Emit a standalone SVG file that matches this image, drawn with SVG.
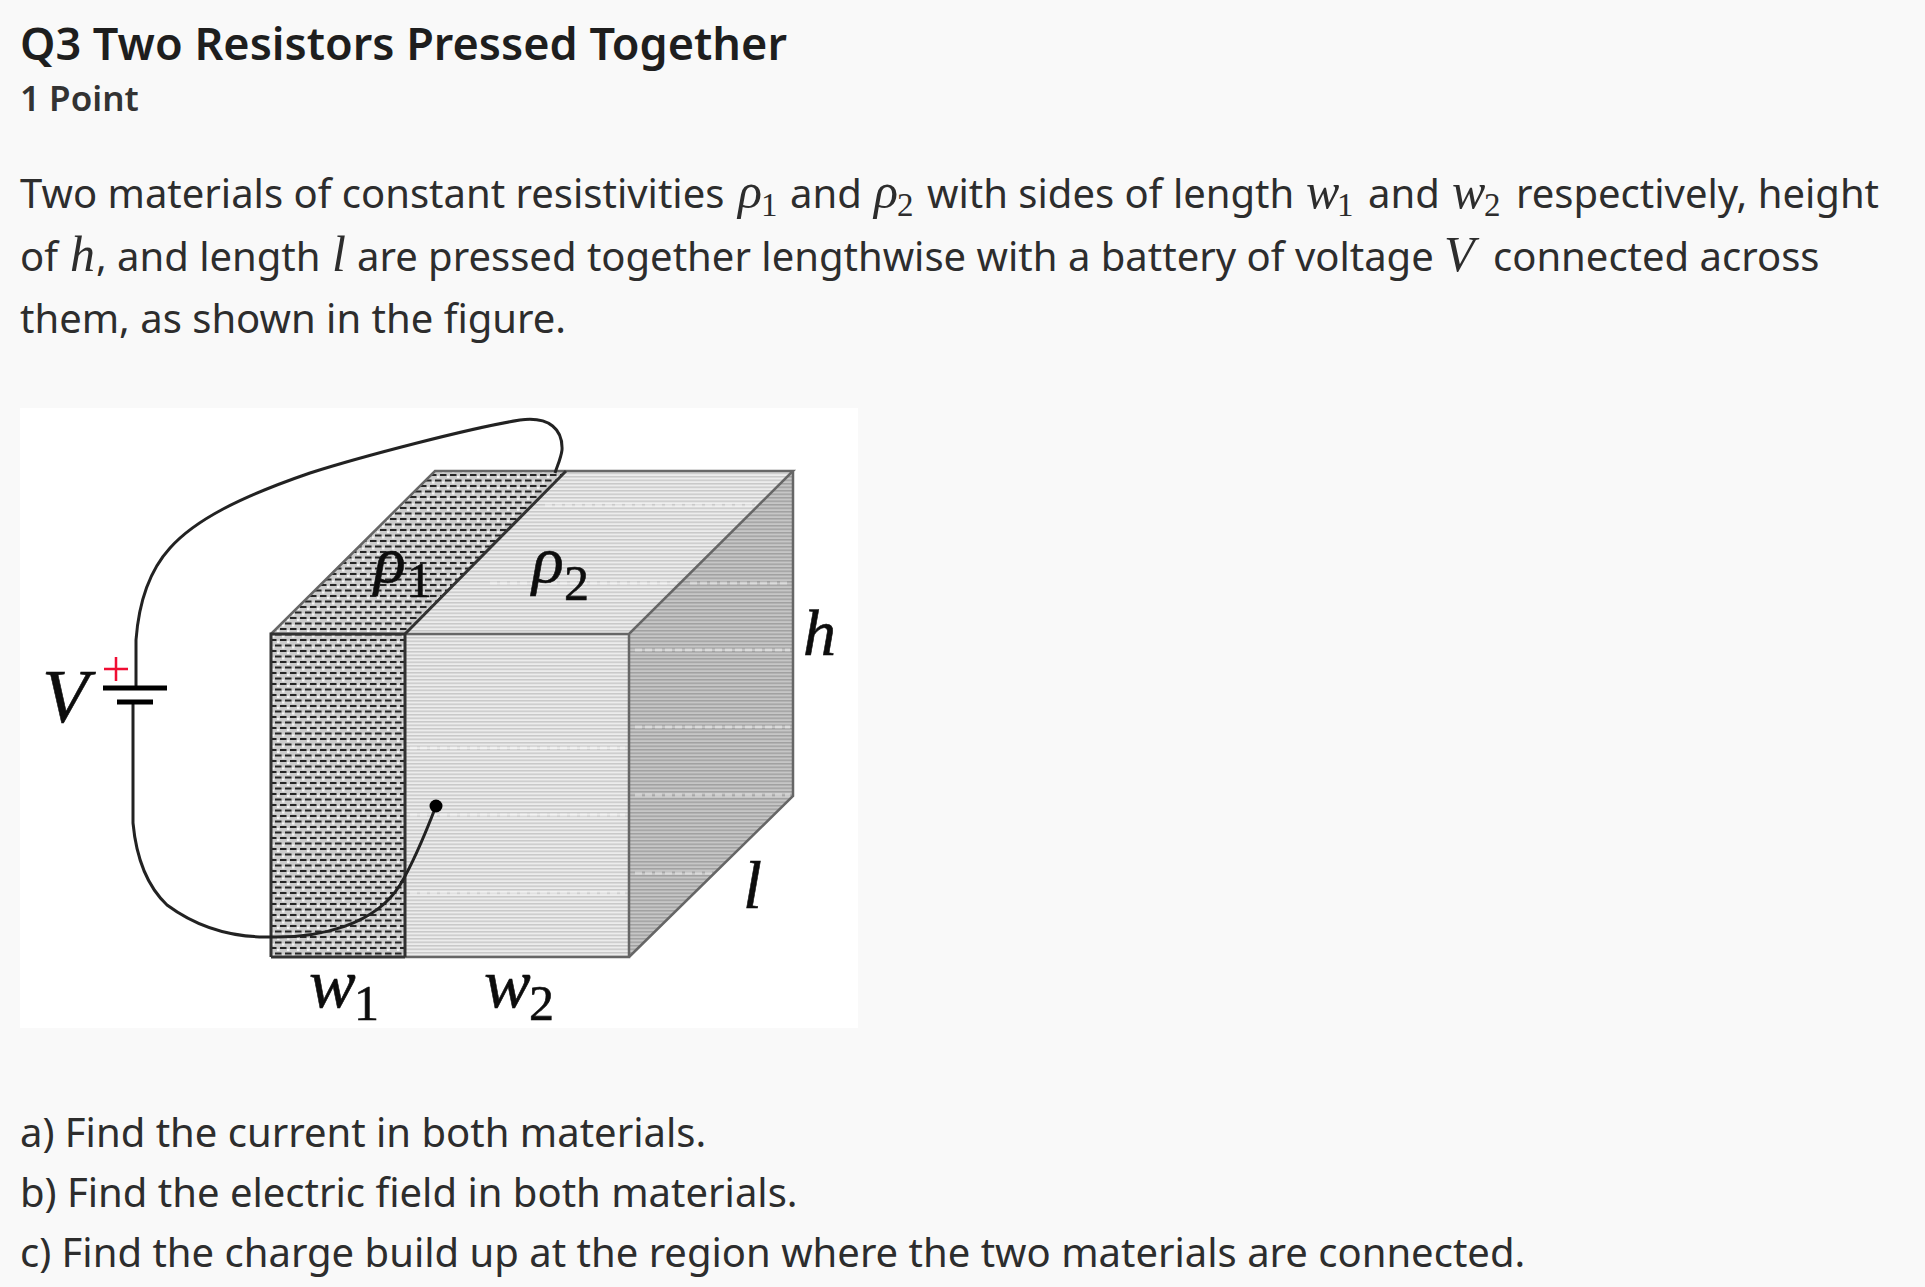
<svg xmlns="http://www.w3.org/2000/svg" width="1925" height="1287" viewBox="0 0 1925 1287">
<style>
text{font-family:"Noto Sans",sans-serif;white-space:pre}
.h1{font-size:45px;font-weight:600;fill:#1e1e1e}
.h2{font-size:35px;font-weight:600;fill:#333}
.b{font-size:40px;fill:#2d2d2d}
.m{font-family:"Liberation Serif",serif;font-style:italic;font-size:50px;fill:#2d2d2d}
.s{font-family:"Liberation Serif",serif;font-size:33px;fill:#2d2d2d}
.fl{font-family:"Liberation Serif",serif;font-style:italic;fill:#111;stroke:#111;stroke-width:.6}
.fs{font-family:"Liberation Serif",serif;fill:#111;font-size:50px;stroke:#111;stroke-width:.6}
.wire{fill:none;stroke:#222;stroke-width:3}
.edge{fill:none;stroke:#666;stroke-width:2.5}
.edgeD{fill:none;stroke:#333;stroke-width:3}
.plate{stroke:#000;stroke-width:5}
.mo{stroke:#fff;stroke-width:3;stroke-dasharray:7 3;opacity:.4}
</style>
<defs>
<pattern id="lt" width="10" height="3.500" patternUnits="userSpaceOnUse"><rect width="10" height="3.500" fill="#ececec"/><rect width="10" height="1.500" fill="#c8c8c8"/></pattern>
<pattern id="sd" width="10" height="3.500" patternUnits="userSpaceOnUse"><rect width="10" height="3.500" fill="#c6c6c6"/><rect width="10" height="1.500" fill="#a0a0a0"/></pattern>
<pattern id="dk" width="10" height="11" patternUnits="userSpaceOnUse"><rect width="10" height="11" fill="#cbcbcb"/><rect x="0" y="1" width="6.500" height="2" fill="#262626"/><rect x="7" y="3" width="2.500" height="2" fill="#f6f6f6"/><rect x="5" y="6.500" width="5" height="2" fill="#262626"/><rect x="0" y="6.500" width="1.500" height="2" fill="#262626"/><rect x="2" y="8.500" width="2.500" height="2" fill="#f6f6f6"/></pattern>
<filter id="soft" x="-2%" y="-2%" width="104%" height="104%"><feGaussianBlur stdDeviation="0.6"/></filter>
</defs>
<rect width="1925" height="1287" fill="#f9f9f9"/>
<g id="question-text">
<text class="h1" x="20" y="60">Q3 Two Resistors Pressed Together</text>
<text class="h2" x="20" y="111">1 Point</text>
<text class="b" x="20" y="208">Two materials of constant resistivities</text>
<text class="m" x="738" y="208">ρ</text><text class="s" x="761" y="216">1</text>
<text class="b" x="790" y="208">and</text>
<text class="m" x="874" y="208">ρ</text><text class="s" x="897" y="216">2</text>
<text class="b" x="927" y="208">with sides of length</text>
<text class="m" x="1306" y="208">w</text><text class="s" x="1337" y="216">1</text>
<text class="b" x="1368" y="208">and</text>
<text class="m" x="1452" y="208">w</text><text class="s" x="1484" y="216">2</text>
<text class="b" x="1516" y="208">respectively, height</text>
<text class="b" x="20" y="271">of</text>
<text class="m" x="70" y="271">h</text>
<text class="b" x="96" y="271">,</text>
<text class="b" x="117" y="271">and length</text>
<text class="m" x="332" y="271">l</text>
<text class="b" x="357" y="271">are pressed together lengthwise with a battery of voltage</text>
<text class="m" x="1444" y="271">V</text>
<text class="b" x="1493" y="271">connected across</text>
<text class="b" x="20" y="333">them, as shown in the figure.</text>
<text class="b" x="20" y="1147">a) Find the current in both materials.</text>
<text class="b" x="20" y="1207">b) Find the electric field in both materials.</text>
<text class="b" x="20" y="1267">c) Find the charge build up at the region where the two materials are connected.</text>
</g>
<rect id="figure-bg" x="20" y="408" width="838" height="620" fill="#fff"/>
<g id="figure" filter="url(#soft)">
<g id="block-rho1">
<polygon points="271,634 405,634 566,471 435,471" fill="url(#dk)"/>
<rect x="271" y="634" width="134" height="323" fill="url(#dk)"/>
<path class="edge" d="M271,634 L435,471 L566,471"/>
<path class="edgeD" d="M271,957 V634 H405"/>
<path class="edgeD" d="M271,957 H405"/>
</g>
<g id="block-rho2">
<polygon points="405,634 629,634 793,471 566,471" fill="url(#lt)"/>
<rect x="405" y="634" width="224" height="323" fill="url(#lt)"/>
<polygon points="629,634 793,471 793,796 629,957" fill="url(#sd)"/>
<path class="mo" d="M545,505 H760 M490,583 H680"/>
<path class="mo" d="M410,748 H625 M410,815 H625 M410,893 H625"/>
<path class="mo" d="M690,583 H790 M635,650 H790 M635,727 H790 M635,795 H790 M635,873 H715"/>
<path class="edge" d="M405,634 H629 L793,471 H566 M629,634 V957 H405 M629,957 L793,796 V471"/>
<path class="edgeD" d="M405,634 V957 M405,634 L566,471"/>
</g>
<g id="connectors">
<path class="wire" d="M136,686 V640 C139,600 150,570 170,548 C195,520 240,497 310,473 C360,457 470,428 520,420 C550,416 563,430 562,450 C561,458 558,464 555,473"/>
<path class="wire" d="M133,704 V823 C136,855 146,885 167,905 C190,922 225,938 271,937 C320,938 375,925 400,885 C415,860 426,832 436,806"/>
</g>
<g id="dot"><circle cx="436" cy="806" r="6.500" fill="#000"/></g>
<g id="battery">
<line class="plate" x1="103" y1="688" x2="167" y2="688"/>
<line class="plate" x1="117" y1="702" x2="153" y2="702"/>
<path d="M116,657 V681 M104,669 H128" stroke="#f01030" stroke-width="2.500" fill="none"/>
</g>
<g id="labels">
<text class="fl" x="42" y="722" font-size="76">V</text>
<text class="fl" x="374" y="582" font-size="66">ρ</text><text class="fs" x="407" y="597">1</text>
<text class="fl" x="532" y="582" font-size="66">ρ</text><text class="fs" x="564" y="600">2</text>
<text class="fl" x="803" y="655" font-size="66">h</text>
<text class="fl" x="743" y="908" font-size="68">l</text>
<text class="fl" x="309" y="1007" font-size="70">w</text><text class="fs" x="354" y="1020">1</text>
<text class="fl" x="484" y="1007" font-size="70">w</text><text class="fs" x="529" y="1020">2</text>
</g>
</g>
</svg>
